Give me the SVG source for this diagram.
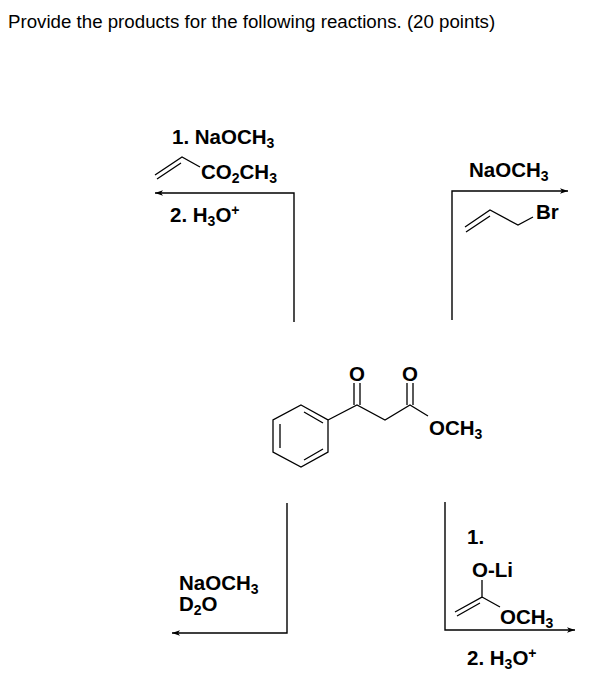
<svg xmlns="http://www.w3.org/2000/svg" width="615" height="700" viewBox="0 0 615 700">
<style>
.t{font-family:"Liberation Sans",Arial,sans-serif;font-weight:bold;font-size:20.5px;fill:#000}
.s{font-size:14px}
.b{stroke:#000;stroke-width:1.3;fill:none}
.a{stroke:#000;stroke-width:1.4;fill:none}
</style>
<defs><marker id="ah" viewBox="0 0 10 10" refX="10" refY="5" markerWidth="11" markerHeight="8" markerUnits="userSpaceOnUse" orient="auto"><path d="M0,1.5 L10,5 L0,8.5 L2.5,5Z" fill="#000"/></marker></defs>
<rect width="615" height="700" fill="#fff"/>
<text x="8" y="28" style="font-family:'Liberation Sans',Arial,sans-serif;font-size:18.7px">Provide the products for the following reactions. (20 points)</text>
<g id="connectors">
<path class="a" d="M294,322 V193 H155" marker-end="url(#ah)"/>
<path class="a" d="M452,320 V191 H568" marker-end="url(#ah)"/>
<path class="a" d="M287,503 V633 H172" marker-end="url(#ah)"/>
<path class="a" d="M445,502 V630 H575" marker-end="url(#ah)"/>
</g>
<g id="reagents-topleft">
<text class="t" x="172" y="144">1. NaOCH<tspan class="s" dy="4">3</tspan></text>
<path class="b" d="M155,175 L182,157 L200,167 M157,179 L181,163"/>
<text class="t" x="201" y="179">CO<tspan class="s" dy="4">2</tspan><tspan dy="-4">CH</tspan><tspan class="s" dy="4">3</tspan></text>
<text class="t" x="170" y="222">2. H<tspan class="s" dy="4">3</tspan><tspan dy="-4">O</tspan><tspan class="s" dy="-7">+</tspan></text>
</g>
<g id="reagents-topright">
<text class="t" x="469" y="177">NaOCH<tspan class="s" dy="4">3</tspan></text>
<path class="b" d="M465,227 L490,210 L518,225 L533,217 M466,232 L490,216"/>
<text class="t" x="536" y="219">Br</text>
</g>
<g id="substrate">
<path class="b" d="M301,405 L328,420 L328,452 L301,467 L273,452 L273,420 Z M280,424 L280,448 M304,412 L323,423 M304,460 L323,449"/>
<path class="b" d="M328,420 L357,405 L385,420 L410,405 L428,416 M354,405 V383 M360,405 V383 M407,405 V383 M413,405 V383"/>
<text class="t" x="357" y="381" text-anchor="middle">O</text>
<text class="t" x="410" y="381" text-anchor="middle">O</text>
<text class="t" x="429" y="435">OCH<tspan class="s" dy="4">3</tspan></text>
</g>
<g id="reagents-bottomleft">
<text class="t" x="179" y="590">NaOCH<tspan class="s" dy="4">3</tspan></text>
<text class="t" x="179" y="611">D<tspan class="s" dy="4">2</tspan><tspan dy="-4">O</tspan></text>
</g>
<g id="reagents-bottomright">
<text class="t" x="467" y="544">1.</text>
<text class="t" x="472" y="577">O-Li</text>
<path class="b" d="M482,580 V597 L455,612 M482,597 L500,607 M480,603 L457,616"/>
<text class="t" x="500" y="624">OCH<tspan class="s" dy="4">3</tspan></text>
<text class="t" x="467" y="665">2. H<tspan class="s" dy="4">3</tspan><tspan dy="-4">O</tspan><tspan class="s" dy="-7">+</tspan></text>
</g>
</svg>
